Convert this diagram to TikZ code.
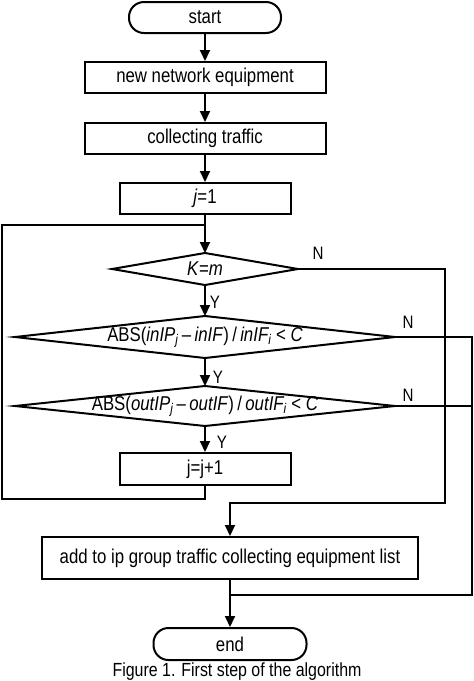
\documentclass[tikz,border=0pt]{standalone}
\usepackage{fontspec}
\setmainfont[FakeStretch=0.84]{Liberation Sans}
\usetikzlibrary{arrows.meta}
\begin{document}
\begin{tikzpicture}[x=1pt,y=-1pt, line width=2pt,
  txt/.style={font=\fontsize{20}{22}\selectfont},
  box/.style={draw, rectangle, inner sep=0pt, txt},
  term/.style={draw, rectangle, rounded corners=15pt, inner sep=0pt, txt},
  diam/.style={rectangle, inner sep=0pt, txt},
  arr/.style={-{Triangle[length=11pt,width=10pt]}},
  lbl/.style={font=\fontsize{18}{20}\selectfont, inner sep=0pt}]
\useasboundingbox (0,0) rectangle (474,681);

\node[term, minimum width=152pt, minimum height=31pt] (start) at (205,17.5) {start};
\node[box, minimum width=241pt, minimum height=31pt] (b1) at (205,77.5) {new network equipment};
\node[box, minimum width=241pt, minimum height=31pt] (b2) at (205,138.5) {collecting traffic};
\node[box, minimum width=171pt, minimum height=31pt] (b3) at (205,198.5) {\textit{j}=1};

\node[diam, minimum width=184pt, minimum height=30pt] (d1) at (205,269) {\textit{K}=\textit{m}};
\draw (d1.west) -- (d1.north) -- (d1.east) -- (d1.south) -- cycle;

\node[diam, minimum width=378pt, minimum height=40pt] (d2) at (205,337)
  {ABS(\textit{inIP\textsubscript{j}}\,--\,\textit{inIF})\,/\,\textit{inIF\textsubscript{i}} < \textit{C}};
\draw (d2.west) -- (d2.north) -- (d2.east) -- (d2.south) -- cycle;

\node[diam, minimum width=378pt, minimum height=38pt] (d3) at (205,406)
  {ABS(\textit{outIP\textsubscript{j}}\,--\,\textit{outIF})\,/\,\textit{outIF\textsubscript{i}} < \textit{C}};
\draw (d3.west) -- (d3.north) -- (d3.east) -- (d3.south) -- cycle;

\node[box, minimum width=171pt, minimum height=32pt] (b5) at (205,469) {j=j+1};
\node[box, minimum width=376pt, minimum height=42pt] (b4) at (230,558) {add to ip group traffic collecting equipment list};
\node[term, minimum width=153pt, minimum height=32pt] (end) at (230,644) {end};

\node[font=\fontsize{19}{21}\selectfont, inner sep=0pt] (cap) at (237,672) {Figure 1. First step of the algorithm};

% main flow
\draw[arr] (start) -- (b1);
\draw[arr] (b1) -- (b2);
\draw[arr] (b2) -- (b3);
\draw[arr] (b3) -- (d1);
\draw[arr] (d1.south) -- (d2.north);
\draw[arr] (d2.south) -- (d3.north);
\draw[arr] (d3.south) -- (b5.north);

% loop back
\coordinate (la) at (2,499);
\coordinate (lb) at (2,225);
\coordinate (lj) at (205,225);
\draw (b5.south) |- (la) -- (lb) -- (lj);

% N from d1
\coordinate (n1a) at (445,503);
\draw[arr] (d1.east) -| (n1a) -| (b4.north);

% N from d2 and d3
\coordinate (r1) at (472,595);
\coordinate (rj) at (230,595);
\draw (d2.east) -| (r1) -- (rj);
\draw (d3.east) -- (d3.east -| r1);

\draw[arr] (b4.south) -- (end.north);

% labels
\node[lbl] (nl1) at (318,253) {N};
\node[lbl] (yl1) at (215,302) {Y};
\node[lbl] (nl2) at (408,322) {N};
\node[lbl] (yl2) at (218,377) {Y};
\node[lbl] (nl3) at (408,395) {N};
\node[lbl] (yl3) at (222,442) {Y};
\end{tikzpicture}
\end{document}
